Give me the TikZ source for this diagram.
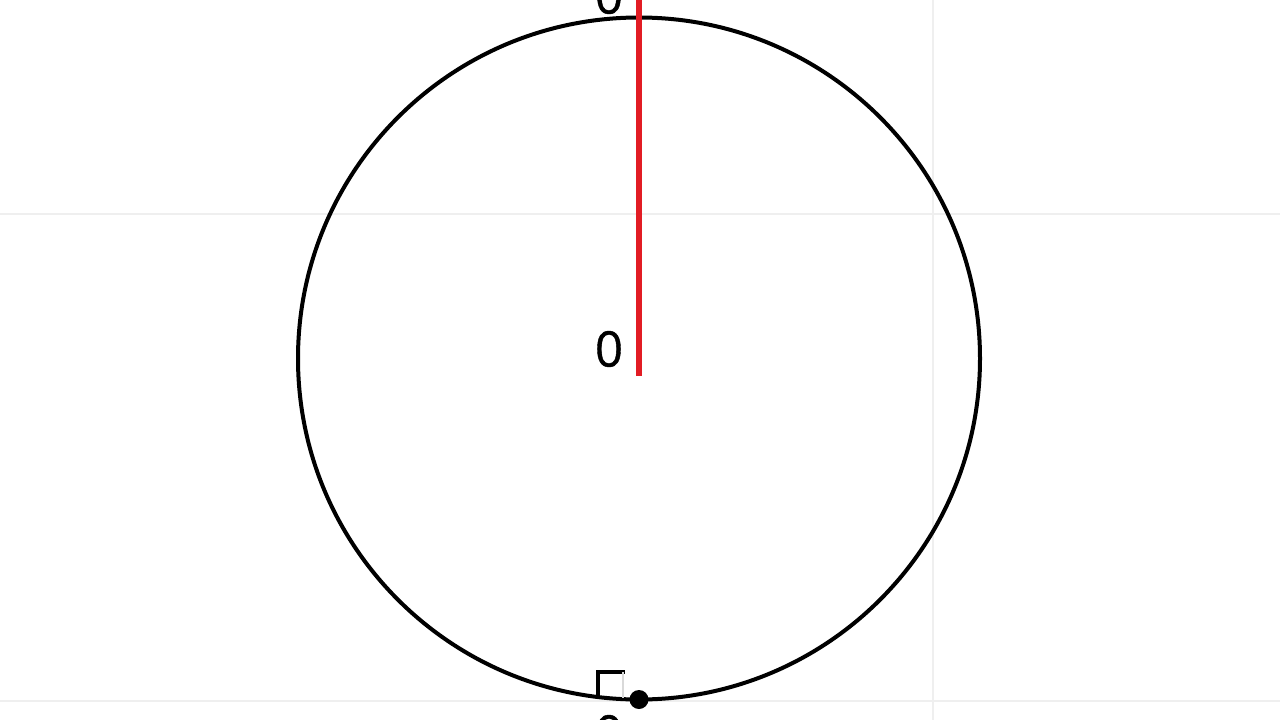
\documentclass[tikz,border=0pt]{standalone}
\usepackage{fontspec}
\newfontfamily\lblfont{Open Sans}[FakeBold=0.8]
\definecolor{gridc}{RGB}{239,239,239}
\definecolor{redl}{RGB}{226,28,36}
\tikzset{
  gridline/.style={draw=gridc, line width=1.5pt},
  circ/.style={draw=black, line width=4pt},
  radline/.style={draw=redl, line width=5.5pt},
  lbl/.style={font=\fontsize{49}{58}\lblfont, inner sep=0pt, anchor=center},
  rmark/.style={draw=black, line width=3.4pt},
}
\begin{document}
\begin{tikzpicture}[x=1pt,y=-1pt]
\useasboundingbox (0,0) rectangle (1280,720);
\fill[white] (0,0) rectangle (1280,720);
% faint background grid
\coordinate (gv1) at (933,0); \coordinate (gv2) at (933,720);
\coordinate (gh1) at (0,214); \coordinate (gh2) at (1280,214);
\coordinate (gh3) at (0,701); \coordinate (gh4) at (1280,701);
\draw[gridline] (gv1) -- (gv2);
\draw[gridline] (gh1) -- (gh2);
\draw[gridline] (gh3) -- (gh4);
% circle
\coordinate (O) at (639,358.5);
\draw[circ] (O) circle[radius=341];
% red radius
\coordinate (rtop) at (639,-5);
\coordinate (rbot) at (639,376);
\draw[radline] (rtop) -- (rbot);
% labels
\node[lbl] (lc) at (609,349) {0};
\node[lbl] (lt) at (609,-4) {0};
\node[lbl] (lb) at (609,733) {0};
% right-angle mark
\coordinate (m1) at (598,697);
\coordinate (m2) at (598,672);
\coordinate (m3) at (623,672);
\coordinate (m4) at (623,698);
\draw[rmark, line cap=rect] (m1) -- (m2) -- (m3);
\draw[draw=black!15, line width=2pt] (m3) -- (m4);
% point
\coordinate (P) at (639,699.5);
\fill[black] (P) circle[radius=9.5];
\end{tikzpicture}
\end{document}
